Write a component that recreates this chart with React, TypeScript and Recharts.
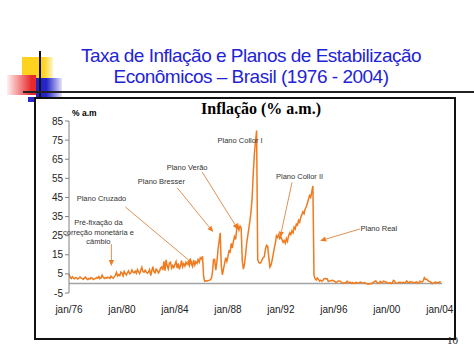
import React from "react";
import { LineChart, Line, XAxis, YAxis, ReferenceLine, ReferenceDot } from "recharts";

// monthly inflation (% a.m.)
const y1976 = [5.0, 3.2, 2.6, 3.5, 2.8, 2.4, 3.1, 2.9, 2.3, 2.7, 3.4, 2.8];
const y1977 = [2.5, 2.2, 2.9, 3.3, 2.4, 2.0, 2.6, 2.3, 3.0, 2.8, 2.1, 2.4];
const y1978 = [2.6, 3.1, 2.7, 3.6, 2.5, 2.9, 4.4, 3.2, 2.6, 3.0, 2.7, 3.3];
const y1979 = [3.0, 2.6, 3.8, 3.1, 2.7, 3.5, 4.2, 5.8, 3.9, 4.6, 4.1, 6.0];
const y1980 = [5.5, 3.9, 6.3, 5.1, 4.4, 5.7, 6.6, 5.0, 5.4, 7.1, 5.9, 5.6];
const y1981 = [6.4, 5.3, 7.3, 6.1, 5.2, 6.8, 8.4, 6.2, 5.9, 6.9, 6.0, 5.4];
const y1982 = [6.0, 7.2, 4.1, 6.5, 8.8, 6.2, 5.6, 7.5, 6.8, 5.5, 6.3, 8.1];
const y1983 = [8.6, 7.0, 11.6, 6.7, 12.3, 9.1, 7.6, 10.7, 11.1, 8.0, 9.4, 8.3];
const y1984 = [9.9, 11.4, 8.0, 10.5, 7.4, 9.2, 12.0, 8.7, 10.3, 9.1, 11.1, 10.0];
const y1985 = [10.9, 9.3, 12.0, 10.1, 8.8, 12.2, 9.7, 11.4, 10.5, 12.5, 11.1, 13.4];
const y1986 = [12.8, 14.2, 3.5, 1.2, 1.4, 1.3, 1.5, 1.6, 1.9, 2.6, 5.8, 12.5];
const y1987 = [12.5, 7.0, 11.0, 17.5, 22.0, 26.5, 9.5, 4.5, 7.5, 10.5, 13.5, 11.5];
const y1988 = [14.0, 17.0, 16.5, 21.0, 18.5, 22.0, 24.5, 23.0, 28.5, 30.5, 28.0, 30.0];
const y1989 = [29.0, 12.0, 7.5, 10.0, 15.0, 21.0, 25.0, 29.0, 33.0, 38.0, 45.0, 58.0];
const y1990 = [68.0, 74.0, 80.0, 12.5, 11.0, 10.5, 11.0, 12.5, 13.5, 14.0, 18.0, 20.0];
const y1991 = [19.5, 14.0, 8.5, 9.5, 12.0, 15.0, 18.5, 21.0, 25.0, 24.0, 25.5, 23.5];
const y1992 = [24.5, 23.0, 21.5, 22.5, 21.0, 23.5, 22.0, 25.0, 26.5, 25.5, 27.5, 26.5];
const y1993 = [29.5, 28.5, 31.0, 30.5, 33.0, 32.0, 34.5, 36.0, 37.5, 36.5, 39.0, 40.0];
const y1994 = [42.0, 44.0, 46.0, 45.0, 48.0, 51.0, 4.5, 2.5, 1.8, 2.8, 2.2, 1.2];
const y1995 = [1.7, 1.2, 1.5, 2.4, 2.7, 2.3, 2.4, 1.0, 1.2, 1.4, 1.5, 1.6];
const y1996 = [1.3, 1.0, 0.4, 0.9, 1.3, 1.3, 1.1, 0.4, 0.1, 0.2, 0.3, 0.5];
const y1997 = [1.2, 0.5, 0.5, 0.6, 0.1, 0.5, 0.1, 0.0, 0.6, 0.2, 0.2, 0.4];
const y1998 = [0.7, 0.5, 0.3, 0.2, 0.5, 0.0, -0.1, -0.5, -0.2, 0.0, -0.1, 0.3];
const y1999 = [0.7, 1.1, 1.3, 0.6, 0.0, 0.2, 1.1, 0.6, 0.4, 1.2, 1.0, 0.6];
const y2000 = [0.6, 0.1, 0.2, 0.4, 0.0, 0.2, 1.6, 1.3, 0.2, 0.1, 0.3, 0.6];
const y2001 = [0.6, 0.5, 0.4, 0.6, 0.4, 0.5, 1.3, 0.7, 0.3, 0.8, 0.7, 0.7];
const y2002 = [0.5, 0.4, 0.6, 0.8, 0.2, 0.4, 1.2, 0.7, 0.7, 1.3, 3.0, 2.1];
const y2003 = [2.3, 1.6, 1.2, 1.0, 0.6, -0.2, 0.2, 0.3, 0.8, 0.3, 0.3, 0.5];
const y2004 = [0.8, 0.6];

const years = [
  y1976, y1977, y1978, y1979, y1980, y1981, y1982, y1983, y1984, y1985,
  y1986, y1987, y1988, y1989, y1990, y1991, y1992, y1993, y1994, y1995,
  y1996, y1997, y1998, y1999, y2000, y2001, y2002, y2003, y2004,
];

const xTicks = [0, 48, 96, 144, 192, 240, 288, 336];
const xLabels = ["jan/76", "jan/80", "jan/84", "jan/88", "jan/92", "jan/96", "jan/00", "jan/04"];
const yTicks = [-5, 5, 15, 25, 35, 45, 55, 65, 75, 85];

// annotations in data units (month index, % a.m.)
const noteTexts = [
  { text: "Plano Collor I", x: 155, y: 75 },
  { text: "Plano Verão", x: 107, y: 60.9 },
  { text: "Plano Bresser", x: 83.7, y: 53.6 },
  { text: "Plano Cruzado", x: 29.4, y: 44.2 },
  { text: "Pré-fixação da", x: 26.7, y: 32.1 },
  { text: "correção monetária e", x: 26.7, y: 26.9 },
  { text: "câmbio", x: 26.7, y: 21.7 },
  { text: "Plano Collor II", x: 208.9, y: 56.2 },
  { text: "Plano Real", x: 280.8, y: 29.0 },
];
const noteArrows = [
  { x1: 120.7, y1: 58.3, x2: 153.3, y2: 28.1 },
  { x1: 98.1, y1: 50.0, x2: 130.7, y2: 26.9 },
  { x1: 51.1, y1: 40.0, x2: 112.6, y2: 10.2 },
  { x1: 38.4, y1: 20.6, x2: 38.4, y2: 9.1 },
  { x1: 202.1, y1: 52.9, x2: 191.3, y2: 24.0 },
  { x1: 263.6, y1: 28.5, x2: 227.5, y2: 22.3 },
];

const data = years.flat().map((v, i) => ({ i, v }));

const arrowColor = "#d9853f";

const Arrow = (p: any) => {
  const { x1, y1, x2, y2 } = p;
  const a = Math.atan2(y2 - y1, x2 - x1);
  const len = 6;
  const w = 2.6;
  const bx = x2 - len * Math.cos(a);
  const by = y2 - len * Math.sin(a);
  const pts = [
    `${x2},${y2}`,
    `${bx - w * Math.sin(a)},${by + w * Math.cos(a)}`,
    `${bx + w * Math.sin(a)},${by - w * Math.cos(a)}`,
  ].join(" ");
  return (
    <g>
      <line x1={x1} y1={y1} x2={bx} y2={by} stroke={arrowColor} strokeWidth={0.9} />
      <polygon points={pts} fill="#ee7a22" />
    </g>
  );
};

const NoteText = (text: string) => (p: any) => (
  <text
    x={p.cx}
    y={p.cy}
    textAnchor="middle"
    dominantBaseline="central"
    fontSize={7.5}
    fill="#333"
    fontFamily="Liberation Sans, Arial, sans-serif"
  >
    {text}
  </text>
);

export default function App() {
  return (
    <div style={{ position: "absolute", left: 0, top: 0, width: 474, height: 355, background: "#fff", overflow: "hidden" }}>
      {/* slide decoration */}
      <div style={{ position: "absolute", left: 22, top: 57, width: 31, height: 23, background: "linear-gradient(90deg, #ffd21f 70%, #fff6c8)" }} />
      <div style={{ position: "absolute", left: 7, top: 75, width: 29, height: 20, background: "linear-gradient(90deg, #fff0f0, #e8282a 85%)" }} />
      <div style={{ position: "absolute", left: 36, top: 78, width: 26, height: 19, background: "linear-gradient(90deg, #2424c8 40%, #e4e4fa)" }} />
      <div style={{ position: "absolute", left: 28, top: 97, width: 32, height: 5, background: "#2a2ac8" }} />
      <div style={{ position: "absolute", left: 39, top: 51, width: 2, height: 56, background: "#111" }} />
      <div style={{ position: "absolute", left: 23, top: 91, width: 451, height: 1.5, background: "#222" }} />

      <div
        style={{
          position: "absolute",
          left: 0,
          top: 45,
          width: 502,
          textAlign: "center",
          color: "#2323d6",
          fontFamily: "Liberation Sans, Arial, sans-serif",
          fontSize: 19,
          letterSpacing: -0.5,
          lineHeight: "21px",
        }}
      >
        <div>Taxa de Inflação e Planos de Estabilização</div>
        <div>Econômicos – Brasil (1976 - 2004)</div>
      </div>

      {/* chart frame */}
      <div style={{ position: "absolute", left: 34, top: 97, width: 418, height: 239, border: "2px solid #111", background: "#fff" }} />
      <div
        style={{
          position: "absolute",
          left: 261 - 100,
          top: 101,
          width: 200,
          textAlign: "center",
          fontFamily: "Liberation Serif, Times New Roman, serif",
          fontWeight: "bold",
          fontSize: 16,
          lineHeight: "16px",
        }}
      >
        Inflação (% a.m.)
      </div>
      <div
        style={{
          position: "absolute",
          left: 72,
          top: 108,
          fontFamily: "Liberation Sans, Arial, sans-serif",
          fontWeight: "bold",
          fontSize: 8.5,
          lineHeight: "10px",
        }}
      >
        % a.m
      </div>
      <div style={{ position: "absolute", left: 447, top: 334, fontFamily: "Liberation Serif, serif", fontSize: 11, color: "#222" }}>10</div>

      <div style={{ position: "absolute", left: 0, top: 0 }}>
        <LineChart width={474} height={355} data={data} margin={{ top: 121, right: 32, bottom: 32, left: 0 }}>
          <XAxis
            dataKey="i"
            type="number"
            domain={[0, 338]}
            ticks={xTicks}
            tickFormatter={(v: number) => xLabels[xTicks.indexOf(v)]}
            axisLine={false}
            tickLine={false}
            tickMargin={7}
            height={30}
            interval={0}
            tick={{ fontSize: 10, fill: "#222", fontFamily: "Liberation Sans, Arial, sans-serif" }}
          />
          <YAxis
            type="number"
            domain={[-5, 85]}
            ticks={yTicks}
            width={69}
            interval={0}
            axisLine={{ stroke: "#808080" }}
            tickLine={{ stroke: "#808080" }}
            tickSize={4}
            tick={{ fontSize: 10, fill: "#222", fontFamily: "Liberation Sans, Arial, sans-serif" }}
          />
          <ReferenceLine y={0} stroke="#a3a3a3" strokeWidth={1.5} />
          <Line
            dataKey="v"
            type="linear"
            stroke="#f07a1e"
            strokeWidth={1.5}
            dot={false}
            isAnimationActive={false}
          />
          {noteArrows.map((a, k) => (
            <ReferenceLine
              key={"a" + k}
              segment={[{ x: a.x1, y: a.y1 }, { x: a.x2, y: a.y2 }]}
              shape={Arrow}
            />
          ))}
          {noteTexts.map((n, k) => (
            <ReferenceDot key={"t" + k} x={n.x} y={n.y} r={0} shape={NoteText(n.text)} />
          ))}
        </LineChart>
      </div>
    </div>
  );
}
